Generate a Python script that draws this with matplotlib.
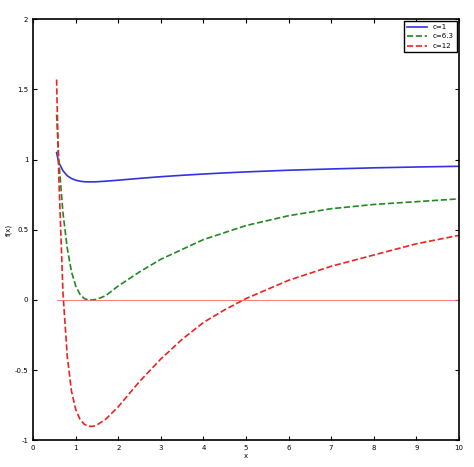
import matplotlib
matplotlib.use("Agg")
import matplotlib.pyplot as plt

# values
x = [0.55, 0.6, 0.7, 0.8, 0.9, 1.0, 1.1, 1.2, 1.3, 1.4, 1.5, 1.7, 2.0, 2.5, 3.0, 3.5, 4.0, 4.5, 5.0, 6.0, 7.0, 8.0, 9.0, 10.0]
y_c1 = [1.05, 0.98, 0.92, 0.885, 0.865, 0.853, 0.846, 0.842, 0.841, 0.841, 0.842, 0.846, 0.853, 0.866, 0.878, 0.888, 0.897, 0.905, 0.912, 0.924, 0.933, 0.941, 0.947, 0.952]
y_c63 = [1.32, 1.0, 0.62, 0.37, 0.2, 0.1, 0.04, 0.01, 0.0, 0.0, 0.005, 0.03, 0.1, 0.2, 0.29, 0.36, 0.43, 0.48, 0.53, 0.6, 0.65, 0.68, 0.7, 0.72]
y_c12 = [1.57, 0.9, 0.05, -0.4, -0.65, -0.78, -0.85, -0.885, -0.9, -0.9, -0.89, -0.85, -0.76, -0.58, -0.42, -0.28, -0.16, -0.07, 0.01, 0.14, 0.24, 0.32, 0.4, 0.46]
labels = ["c=1", "c=6.3", "c=12"]

fig = plt.figure(figsize=(4.74, 4.67), dpi=100)
ax = fig.add_axes([0.07, 0.057, 0.898, 0.902])

ax.plot(x, y_c1, color="#3333dd", lw=1.2, label=labels[0])
ax.plot(x, y_c63, color="#228822", lw=1.2, ls="--", label=labels[1])
ax.plot(x, y_c12, color="#ee2222", lw=1.2, ls="--", label=labels[2])
ax.plot([0.55, 10], [0, 0], color="#ee6666", lw=0.6)

ax.set_xlim(0, 10)
ax.set_ylim(-1, 2)
ax.set_xticks(range(0, 11))
ax.set_yticks([-1, -0.5, 0, 0.5, 1, 1.5, 2])
ax.set_yticklabels(["-1", "-0.5", "0", "0.5", "1", "1.5", "2"])
ax.tick_params(direction="in", labelsize=5, top=True, right=True, length=3)
ax.set_xlabel("x", fontsize=5, labelpad=1)
ax.set_ylabel("f(x)", fontsize=5, labelpad=2)
for s in ax.spines.values():
    s.set_linewidth(1.2)
ax.legend(loc="upper right", fontsize=5, handlelength=3, fancybox=False,
          edgecolor="black", borderaxespad=0.3, framealpha=1)

fig.savefig("out.png", dpi=100)
